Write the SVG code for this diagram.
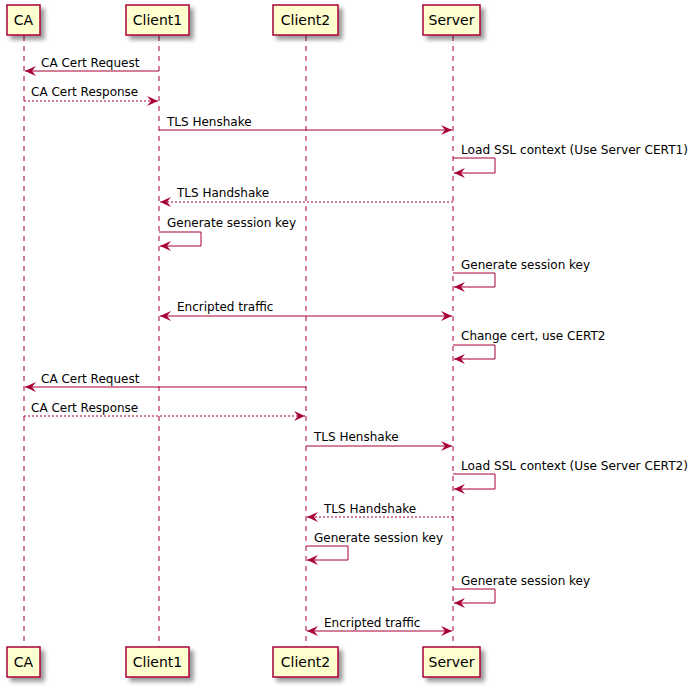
<svg xmlns="http://www.w3.org/2000/svg" width="695" height="692" viewBox="0 0 695 692">
<defs>
<marker id="ah" viewBox="0 0 12 10" refX="11" refY="5" markerWidth="12" markerHeight="10" markerUnits="userSpaceOnUse" orient="auto-start-reverse"><path d="M0,0 L11,5 L0,10 L4,5 Z" fill="#A80036"/></marker>
<filter id="sh" x="-20%" y="-20%" width="150%" height="150%"><feGaussianBlur in="SourceAlpha" stdDeviation="2"/><feOffset dx="4" dy="4"/><feComponentTransfer><feFuncA type="linear" slope="0.4"/></feComponentTransfer><feMerge><feMergeNode/><feMergeNode in="SourceGraphic"/></feMerge></filter>
</defs>
<style>
.box{fill:#FEFECE;stroke:#A80036;stroke-width:1.5;filter:url(#sh)}
.ll{stroke:#A80036;stroke-width:1;stroke-dasharray:5,5;fill:none}
.m{stroke:#A80036;stroke-width:1;fill:none;marker-end:url(#ah)}
.d{stroke-dasharray:2,2}
.b{marker-start:url(#ah)}
text{font-family:"DejaVu Sans","Liberation Sans",sans-serif;font-size:12px;fill:#000}
.n{font-size:14px;text-anchor:middle}
</style>
<g id="lifelines">
<line class="ll" x1="24" y1="36" x2="24" y2="647"/>
<line class="ll" x1="159" y1="36" x2="159" y2="647"/>
<line class="ll" x1="306" y1="36" x2="306" y2="647"/>
<line class="ll" x1="453" y1="36" x2="453" y2="647"/>
</g>
<g id="CA"><rect class="box" x="7" y="5" width="33" height="30"/><text class="n" x="23.5" y="25">CA</text>
<rect class="box" x="7" y="647" width="33" height="30"/><text class="n" x="23.5" y="667">CA</text></g>
<g id="Client1"><rect class="box" x="126" y="5" width="63" height="30"/><text class="n" x="157.5" y="25">Client1</text>
<rect class="box" x="126" y="647" width="63" height="30"/><text class="n" x="157.5" y="667">Client1</text></g>
<g id="Client2"><rect class="box" x="273" y="5" width="65" height="30"/><text class="n" x="305.5" y="25">Client2</text>
<rect class="box" x="273" y="647" width="65" height="30"/><text class="n" x="305.5" y="667">Client2</text></g>
<g id="Server"><rect class="box" x="423" y="5" width="57" height="30"/><text class="n" x="451.5" y="25">Server</text>
<rect class="box" x="423" y="647" width="57" height="30"/><text class="n" x="451.5" y="667">Server</text></g>
<g id="connectors">
<line class="m" x1="159" y1="71" x2="25" y2="71"/><text x="41" y="67">CA Cert Request</text>
<line class="m d" x1="24" y1="101" x2="158" y2="101"/><text x="31" y="96">CA Cert Response</text>
<line class="m" x1="159" y1="130" x2="452" y2="130"/><text x="167" y="126">TLS Henshake</text>
<polyline class="m" points="453,158 495,158 495,173 454,173"/><text x="461" y="154" textLength="227" lengthAdjust="spacingAndGlyphs">Load SSL context (Use Server CERT1)</text>
<line class="m d" x1="453" y1="202" x2="160" y2="202"/><text x="177" y="197">TLS Handshake</text>
<polyline class="m" points="159,232 201,232 201,246 160,246"/><text x="167" y="227">Generate session key</text>
<polyline class="m" points="453,273 495,273 495,287 454,287"/><text x="461" y="269">Generate session key</text>
<line class="m b" x1="160" y1="316" x2="452" y2="316"/><text x="177" y="311">Encripted traffic</text>
<polyline class="m" points="453,345 495,345 495,359 454,359"/><text x="461" y="340">Change cert, use CERT2</text>
<line class="m" x1="306" y1="387" x2="25" y2="387"/><text x="41" y="383">CA Cert Request</text>
<line class="m d" x1="24" y1="416" x2="305" y2="416"/><text x="31" y="412">CA Cert Response</text>
<line class="m" x1="306" y1="446" x2="452" y2="446"/><text x="314" y="441">TLS Henshake</text>
<polyline class="m" points="453,474 495,474 495,489 454,489"/><text x="461" y="470" textLength="227" lengthAdjust="spacingAndGlyphs">Load SSL context (Use Server CERT2)</text>
<line class="m d" x1="453" y1="517" x2="307" y2="517"/><text x="324" y="513">TLS Handshake</text>
<polyline class="m" points="306,546 348,546 348,560 307,560"/><text x="314" y="542">Generate session key</text>
<polyline class="m" points="453,589 495,589 495,603 454,603"/><text x="461" y="585">Generate session key</text>
<line class="m b" x1="307" y1="631" x2="452" y2="631"/><text x="324" y="627">Encripted traffic</text>
</g>
</svg>
